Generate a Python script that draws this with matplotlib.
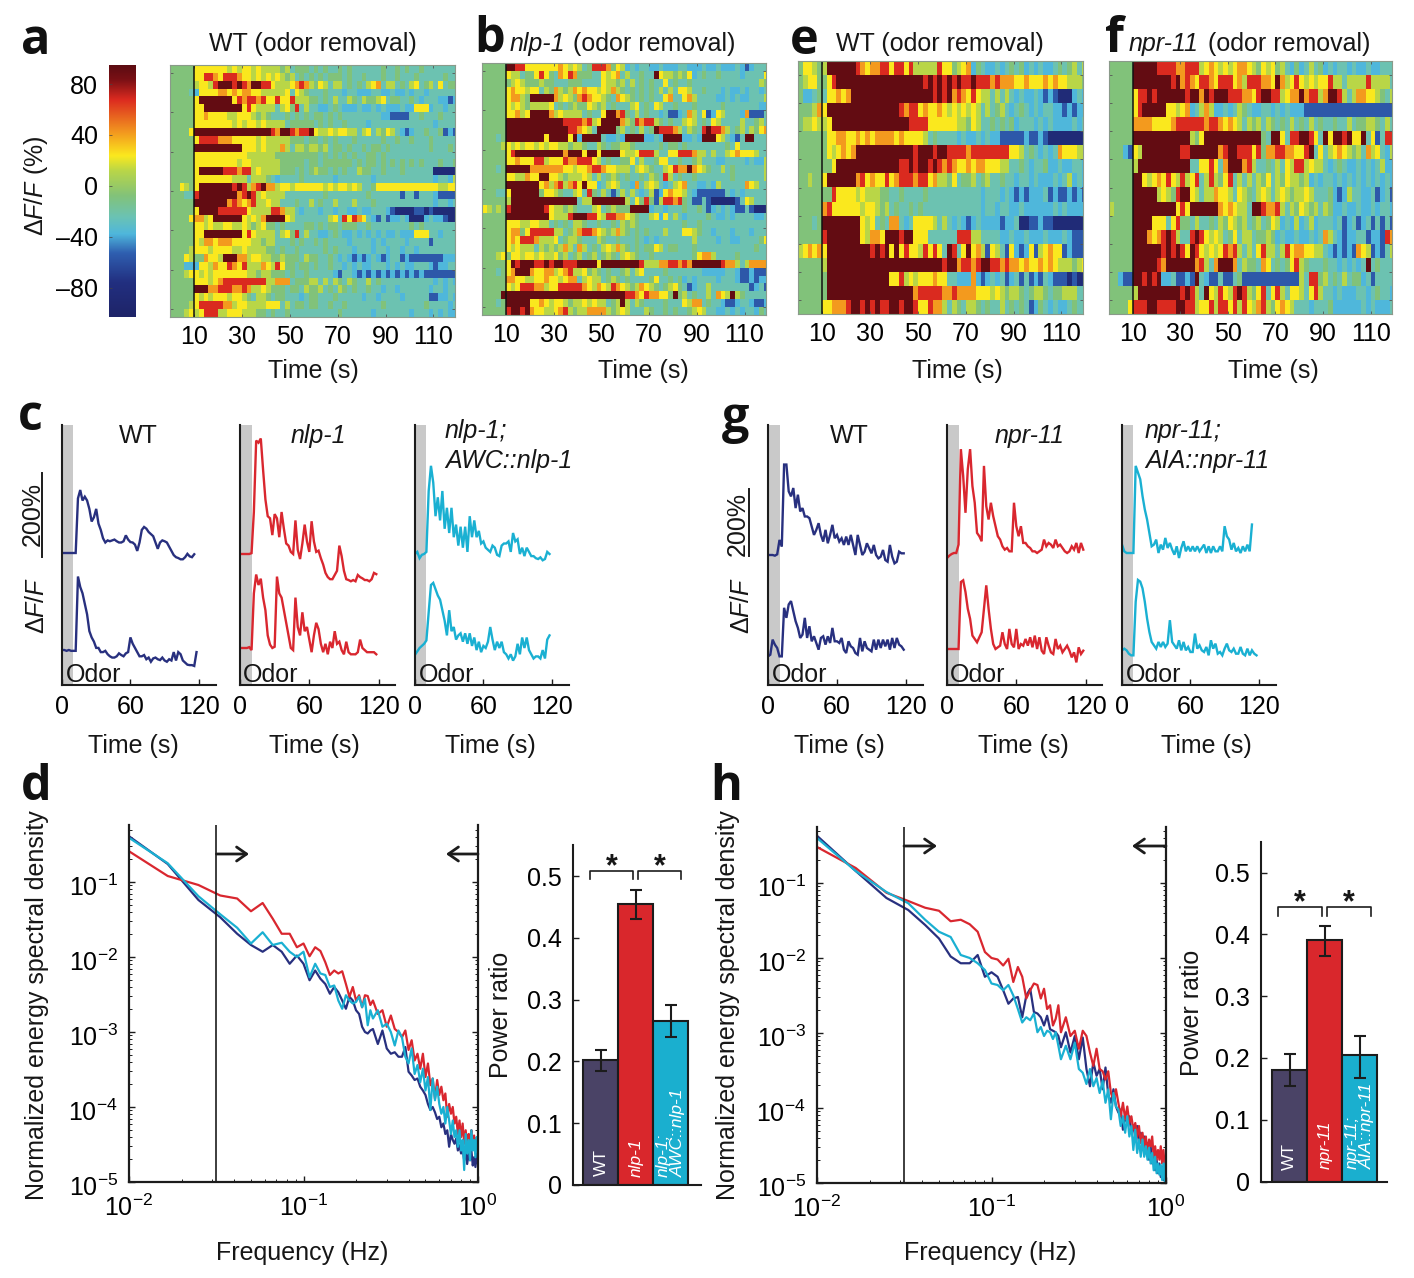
import numpy as np
import matplotlib
matplotlib.use("Agg")
import matplotlib.pyplot as plt
from matplotlib.colors import LinearSegmentedColormap, Normalize
from matplotlib.transforms import ScaledTranslation

plt.rcParams.update({
    "font.family": "Liberation Sans",
    "mathtext.fontset": "custom",
    "mathtext.rm": "Liberation Sans",
    "mathtext.it": "Liberation Sans:italic",
    "mathtext.bf": "Liberation Sans:bold",
    "mathtext.default": "regular",
    "font.size": 18,
})

W, H = 1414, 1278
NAVY, RED, CYAN = "#28307f", "#d9272f", "#1ab0d2"
BAR_COLORS = ["#4a4366", "#d9272c", "#1aafcf"]
INK = "#1c1c1c"

# Calcium response levels (% dF/F) used by the heat map rows
LEVELS = {"D": -85, "B": -56, "c": -38, "t": -24, "g": -8, "l": 12,
          "y": 24, "o": 42, "r": 68, "d": 92}

# Heat map rows, one letter per 2 s bin
HEAT_A = [
    "gggggyyyyy yylylyylyl lllgltgggt gtgttgtgtt ttttgttgtg ttgttttttt",
    "gggggyyrro yrrroyylyl ylylgltgtg tgtgggtgtt gtttgttgtt tgtttttgtt",
    "ggggglyylr dddrdroddr rylllyorol gyltlltgtg tlyotlltgt lytgltytgg",
    "ggggtcyyyy ooyoyooyyl llllytylgt ttgtttcttc ccttcctcct cttctttttt",
    "gggggydddd dddyrorror yyryyrlllg gtgtlttlgt lgglytggtt gtctttccBc",
    "gggggyyddd dddddyryll lltlygrtlt tcctgtccct cctctccctc cyyycttctt",
    "gggggyyoyy yyllyyylgl gtttgtgtgt ggtgtgtttt ttttccBBBB ttgtttgttt",
    "gggggyyyyy yyylylyyly lllltggggg tgtgttgttt tctttttttt tttttctttt",
    "ggggyddddd dddddddddd droddrorrd yllylyyllt lytlgyltcB cttgttgBcB",
    "gggggyrrrr oooyyyyyly lllllgggtg gtgtgtttgt ttttgttgtt gtttgttttt",
    "gggggddddd dddddyyyly llloltllgl lgltggtgtt gtggtgtttt ttttgtttgt",
    "gggggyyyyy yyyyyyllll llgggggggg gtgtgtgtgt tggtgttttt tttttttttt",
    "gggggyyyyy yyyylyylll lllgggggtg gtggggggtg tggtgtgtgt gtgtttgttg",
    "gggggydddd drrrorrlyl lllgggtgtg lggtgtgttl ggttgtttgt tttttDDDDD",
    "gggggyyyyy yyyllltlll gtcttttgtt ttttcttttt ttcttttttt tttttcttcl",
    "ggylgydddd dddrdrlord oolyylyyyy yylylyylyl ttgyyyyyyy yyyyyyllyy",
    "gggttrdddd ddddordrly lllltttttt ttgttttttt tgttttttBt tBtttcBBBB",
    "gggggddddd ddoroyorll ylltttgttl tgttltttlt ttgttttttt tttttcttct",
    "gggggydddd rrrrrrylll lrrolltctt tcttcttcct cctttcBDDD DBBDBDDDDD",
    "ggggyoolyd dddddylylo ddddyltttt tttlytryro ytcBtBcctc DDDctccBDD",
    "gggggyylyl lyyllylgly ggtgttttgg tgtggtgggt tgtttttttt gtgttttttt",
    "gggggyyddd dddddyryll lltlygrtlt tcctgtcctc tctctcctcc cyyyttcttt",
    "gggggylooy oooyyyyllg lltttgtgtt gtgttttctt ttctcttttc ttttBttttt",
    "gggglyyyly yyyllyllll ggtgttgttt ttgtgtttct ttcttcttct tctttttttt",
    "gggylggoyy ldddoolyyl lgglgggtlg gttgtctcBc BctcBcttBc BBBBBBBccc",
    "gggcccyylo yyroyrlllo ylryggtggt gttgttctct cctttctctc ctttcBcctt",
    "ggglyylyly yyyyyyllgl lgggtgttgt ttttcBttcB cBcBcBcBcB cBcBBBBBBB",
    "gggggyyyly orrrrrrrrr lloootgggl ltltlgtlgt tltgtttttt tttttctctc",
    "gggggdddoo rrroorolly lgggtggtlg gltgtlgtgt tgttcttctt ttttcttctt",
    "gggggylyly yylyylgtll gtggtttctg gtttgttttt cttcttttct ttttBBcctc",
    "gggglyrrrr roolyyllll yyytltggtg gttgttgttt ttttgttttt tttgttttct",
    "ggglylyrrr llyyylllgg tgttgttttt tttttgtttt ttcttttttt ctttctctcc",
]
HEAT_B = [
    "gggggddrry yyyyyyoyly ltgrrrogyl ctcttcctcc cttccctcct ccctcBcttt",
    "gggggylltg gyrygtoyro gggttylyot lttgttdyll glgyctgttg ttttctttty",
    "gggggglylg gglggtttgg gttttyllgl tltgtgttyt gttgtttttt ttttttttlg",
    "gggggyoyyl yytlgolglo yoyylylolg tgtgtgtltl tyylttgttt ctcctcttct",
    "gggggyoolg dddddolylg oroyylgtoy lgtgtgttyo ttyolttttc ctctcctttl",
    "gggggylylg llllytgtgl ggylgltgtt tlytgtyltt gtttgttttt gtttttttcc",
    "gggggyyoly ddddolylll ltgttyddor gtltgttctB BctoltyBcy ltttcoBBBt",
    "gggggddddd dddddddrrr rorlyddddo lgrorrlgtg ttlyltgtyl ttttlttglt",
    "gggggddddd ddddddddrr oyltddddgl tgtltgdrrr oltlgtrdrr oltgltlgyo",
    "gggtgddddd dddyddddyd cddddtcctc ddddcctcdd ddcctcdddy ltcBtddttt",
    "gggglylyly ylylyyllgl lgttlgtggl lgtttttgtg gtgttttttt tgtytttttt",
    "gggggyrddd dddddddodd dyddyddddy llyrrrltty yrrrolltlt tlyoyyyltt",
    "gggggyyoyy yrrlyyyroo rrryltgttg gytlttgyyt tgttgltttc cttttctccl",
    "gggtgddddd oooooooyyl yyorroyyll ltlylgttly roodoylgtt ltgttttttl",
    "gggggyyllo yyddyylgll lyltltglgt gttgtlgtrl tgttgttttt ttgttttttl",
    "gggggddddd ddyolorlor ydyyctlylt tcotlyltct lyottcctcl tttttoyltt",
    "gggttydddd ddgyylgttl ytrgtltBtl tltctlBcyo yyltcBBBBB Btctcttttt",
    "gggggldddd dddddddddd tllddddddd ltygrgBlrr orgtBBtBDD DDDBtylttt",
    "ylglgrdddd dddryllglg tttlytglgg gddddcttct ttgttgtBct ctcBBtBDDD",
    "gggggddddd ddddylllrd ddrrylrroo ylgttlycyt ltcttttgtc ctcttttcct",
    "gggggyyyll yylltgtgtl lgttgttgtl glgttttttt ttgttgtttt tttttttttt",
    "gggggyoogy rrrrrlltgl orroylglol gtgtgtttlt ttyylgttct ttctttcttt",
    "gggggyoyrr rolllytgll gtttlgttgt ttgtctcttt ttttlttttc ttccttttgy",
    "gggggylyll ltlglglolt oltgtlylol gtgtggyltg gtttgttttt tttttttgtt",
    "ggglygyyly ylyllygltg ltgltglgtl ylgttgtttt ttttgyoolt tttgtttttt",
    "gggggydrdd drrdrddrrr ddddyddddd dddrllloor rorodddddd rooltlooo",
    "gggtgyoddd oyyoolyorl lyglgtgttg ltlyttttgt ttttttcccc cttcBBcBBB",
    "gggggooyyl lyyoyylyoo tlylltglgt gttttgyttg tgctcttttc tttcBBcBcc",
    "gggggylyrr roolyyrrrr royloylroy lgloylgtgl ygtBcttltt ttttttBctB",
    "ggggdddddd dddddddddd dddddddddd rroyrooyyg dgltgttlto yldlgttttt",
    "gggtgddddd yyoylyylgl lylylltgld ltlgttttgt ttylootgtt cBBcttcBBc",
    "gggggrddrd oyyllyorlg lloooolgly ltttlgttgt gttglylttc ctctcttcgt",
]
HEAT_E = [
    "gyylgldddd ddroyoorry rryrlllllr yyglyocgtc ctctgtgctc tcctgtgltl",
    "glyyggyrdd dddddddddd ddddddrdrd rdrdrrdrrr oroooyyoyy yoyoyylllg",
    "gcctgtyyoy oddddddddd ddddddddrd rdoroyryll tltltctcct cBcBDDDctc",
    "gggloydddd dddddddddd drorryoyyo ylylylyltl tgltctgtct cttccBcBcc",
    "gllyllyddd dddddddddd dddrrrryyy yyyllgyltt gtgtgctttc tctcccctct",
    "ggggggyyoo yyoyoyoooo yoyyyyltgt tttctcctct ccBBBBBcBB cBDDDDDDDD",
    "ggggggylyo yodddddddd ddddrdddrd drrrrorrrr rrrryyltgt ctctoyyyll",
    "gggggggydd dddddddddd drrdrddrdr oroyyoyooy yyllttgtct tgcctccttc",
    "gglggydddd ddoryoyyry orrrorryol lgytggltgl ttgttcttct ccctctlctc",
    "gggggggryy yylylllggt tgttttgttt ttttttttct ttctcBcBcc ctBcBBcBcB",
    "gggggoryyy yyylyylglt gttgtgtttt ttttttttct tcttcctccc ccctctcccc",
    "gggtgddddd dddylytgto otctyyyylt ltctcBctcc ccBcctDDBB cBBDDDDDDD",
    "gggggrdddd dddylooydd drddyyyttt tttrrrlltt ttcctcctcc ctccctcBBB",
    "lyoyoydddd dddddrdrdy dyryylryry tdrtydyolB yltBycBcyB lyoyyBcBBB",
    "gggggldddd dddddddddd dddddddddd rddorrordd rrorooyoyy oyoylllgly",
    "ggggggdddd dddddddddy yrlylyyyoy yttcccocBc tctBctBtBc BtcBBBDBDD",
    "ggggggdddd dddddddddd ddddorrrrr oorooooyyy lylgllgtgl lgtggllltt",
    "gggggyyooo rddrdrdrrd drddryyroo ltlgtllgtg ttltgtgtBc gtctcctgtt",
]
HEAT_F = [
    "gggggddddd rrrroorrrl yoylylyooy lgylygltcg ctltgctctt ctcctccttt",
    "gggggddddd dddrdoroyr royrrryolr rrooydolyr ylylyyrllt llllrllllt",
    "gggggyrrdr ddddddrddo drdddrrroo yrddrrlyoo dorrloddrl tlooyylgtl",
    "gggggyrddd ddyylyoctl olcctctlgt ccttctctcc cBBBBBBBBB BBBBBBBBBB",
    "gggggooooy yyyorrrrrr orroyoyltl gltlgtgtlt gtltgttgtt ltggllgtlt",
    "gggggddddd dddddddlgy dddddddddd ddgtddytrr ddrytdyddr dyydtyBtrr",
    "gggcBylddd dddddrrddd dddorddrrr yrgoorrooy yrdtytlyoy lgltolytcl",
    "gggggldddd dddddddtty yrytodddor lttgtltylr rlylltctgt cctctctlcc",
    "gggggddyly oyrylrlyrt lrlgyrtltl tlgytlgyll glctcttctc tctctctctc",
    "gggggddddd lylgrddylt lloyyltylg tlyltlylgl lyltttgcBc lttcctBctB",
    "lggggddddd ddddyryddd dddoyoyllt ddroorltlg ylgltlgcct cctcctcttc",
    "gggggddddy yytyrggtlt tgtlgylglt gltgylctcl ctlctttctB ctBctBtBtB",
    "gggggdddoy ordrlttrdr ylyltgytll tgglgctcct cctctoltcB ccttBccBro",
    "gggggddddd drdrdrydry lylyrorltl tyrlltlryo oyylltcBcB cBoylBcBtl",
    "gggggddddd roddddddor ltodddotlg gtoytgtgyr lgtttgttct ctctdtgttt",
    "ggcBBddrdr dcctBBcBdt cBBtBBtgBB BBBBBBBBBB ltrrgltgtl tggctBtttt",
    "gggggldddd dddddrdrlt dylrylrdrl gyrtyrltyy ltyrlttctc ccttctgttc",
    "ggggyrrrdd rrrrddrrly yrlrryrlry lorlgyoylt ttctttgccc ccctctccct",
]

# Time courses: % dF/F relative to the pre-stimulus level, sampled every 2 s
WT_C_UP = [0,0,0,0,0,0,0,130,150,125,134,125,105,75,85,105,70,55,35,25,30,28,30,32,28,25,25,28,42,32,26,25,20,5,25,55,62,58,50,45,40,25,10,25,30,28,25,15,5,-5,-10,-12,-15,-15,-10,-2,-8,-10,-3]
WT_C_LO = [0,0,-2,0,-2,-2,-2,175,150,135,110,85,45,30,20,5,5,-5,-5,-2,-10,-15,-18,-18,-15,-8,-12,-15,-8,-5,30,15,5,-5,-15,-15,-12,-22,-18,-28,-20,-18,-22,-24,-18,-25,-28,-22,-25,-5,-25,-5,-10,-25,-30,-35,-36,-36,-38,-5]
NLP_UP = [0,0,0,0,0,2,100,270,265,275,200,130,90,85,45,95,85,40,100,60,25,20,5,0,80,10,-12,25,70,30,5,78,30,5,8,-10,-25,-45,-55,-60,-60,-50,-40,20,-5,-40,-60,-62,-65,-62,-65,-50,-55,-58,-62,-62,-65,-60,-45,-48]
NLP_LO = [0,0,0,0,2,-5,130,175,150,165,120,90,30,8,0,3,170,130,120,90,60,30,0,-5,120,50,30,85,40,50,20,-10,30,60,45,10,-10,10,-15,15,0,40,10,15,-5,-15,15,-10,-15,-15,-15,-10,20,0,-5,-10,-10,-10,-10,-15]
RES_C_UP = [0,5,-10,-2,0,5,150,210,170,90,135,80,150,60,110,50,110,40,70,20,65,15,65,5,90,40,80,40,55,25,30,15,10,5,20,15,-2,-5,20,25,25,30,5,50,30,35,0,15,-5,15,5,-5,-5,-10,-12,-8,-15,-12,5,0]
RES_C_LO = [-16,-8,0,5,10,18,85,150,155,140,125,115,90,65,30,90,40,50,20,30,35,15,35,10,35,5,25,-5,15,-10,5,0,15,50,20,-5,15,0,15,-10,-15,-25,-15,-30,-20,10,-15,25,0,25,-5,-15,-25,-20,-20,-25,-5,-25,20,30]
WT_G_UP = [0,0,0,-2,2,45,25,270,270,190,175,200,140,180,130,140,115,115,110,85,60,75,95,60,40,75,35,60,90,50,60,40,50,30,55,30,60,30,0,60,30,0,10,35,20,5,30,0,-10,-5,15,-15,-20,30,-5,-25,-20,10,5,5]
WT_G_LO = [-25,-20,25,10,0,-25,-25,120,90,130,140,110,80,60,30,40,90,30,65,20,35,15,-5,30,35,10,35,15,60,20,20,15,30,-5,-15,20,5,0,-15,-20,30,-10,20,0,-5,-10,25,-5,25,0,25,5,25,-5,30,0,30,10,5,-5]
NPR_UP = [-15,-8,-3,0,0,25,310,230,120,250,310,200,150,60,50,35,260,140,100,150,110,80,50,40,20,10,15,5,5,150,80,50,80,30,30,20,15,5,5,0,5,10,40,20,30,25,15,40,20,25,15,5,0,5,20,10,30,0,30,10]
NPR_LO = [0,0,0,0,0,0,200,205,170,120,90,40,30,20,35,50,120,190,120,60,15,0,5,10,50,15,0,60,15,5,60,0,15,10,30,10,35,5,40,0,35,-5,-15,35,10,-10,-15,30,0,10,-10,0,10,-5,-25,-10,-40,5,-15,-5]
RES_G_UP = [25,5,0,0,0,0,260,240,220,170,130,100,60,20,25,40,0,25,10,45,15,30,10,-5,20,-15,15,35,5,20,5,20,5,20,5,15,25,0,20,0,20,5,5,20,5,80,50,40,10,30,5,15,0,20,5,25,5,85]
RES_G_LO = [5,10,5,-5,-10,-10,150,215,210,190,150,100,60,30,20,10,30,15,30,15,25,95,30,20,10,35,5,30,5,15,0,0,55,10,20,5,0,15,-10,35,10,25,-5,0,-10,10,25,5,0,10,-5,-5,15,-5,-10,10,-10,5,-5,-10]

# Spectra: frequency bins (multiples of 1/120 Hz) and log10 of the normalized density
FREQ_BINS = [1.2, 2, 3, 4, 5, 6, 7, 8, 9, 10, 11, 12, 13, 14, 15, 16, 17, 18, 19, 20, 21, 22, 23, 24, 25, 26, 27, 28, 29, 30,
             32, 34, 36, 38, 40, 42, 44, 46, 48, 50, 52, 54, 56, 58, 60, 62, 64, 66, 68, 70, 72, 74, 76, 78, 80,
             82, 84, 86, 88, 90, 92, 94, 96, 98, 100, 102, 104, 106, 108, 110, 112, 114, 116, 118, 120]
D_WT = [-0.39,-0.76,-1.24,-1.47,-1.69,-1.84,-1.93,-1.84,-1.93,-2.09,-1.98,-2.09,-2.31,-2.18,-2.29,-2.36,-2.49,-2.40,-2.47,-2.58,-2.69,-2.53,-2.58,-2.71,-2.76,-2.93,-3.0,-3.02,-2.98,-2.96,
        -3.16,-2.98,-3.22,-3.29,-3.27,-3.33,-3.33,-3.2,-3.53,-3.58,-3.64,-3.62,-3.73,-3.78,-3.84,-3.96,-4.04,-4.0,-4.07,-4.16,-4.13,-4.27,-4.22,-4.36,-4.31,
        -4.53,-4.36,-4.44,-4.49,-4.42,-4.58,-4.51,-4.62,-4.56,-4.71,-4.58,-4.76,-4.62,-4.71,-4.58,-4.78,-4.67,-4.8,-4.62,-4.76]
D_MUT = [-0.59,-0.92,-1.04,-1.18,-1.22,-1.39,-1.28,-1.49,-1.69,-1.69,-1.87,-1.82,-1.99,-1.87,-1.92,-2.07,-2.24,-2.18,-2.22,-2.19,-2.36,-2.53,-2.40,-2.58,-2.51,-2.67,-2.51,-2.52,-2.64,-2.58,
         -2.76,-2.71,-2.93,-2.78,-2.96,-3.0,-3.07,-2.98,-3.24,-3.11,-3.38,-3.29,-3.49,-3.29,-3.6,-3.42,-3.71,-3.62,-3.89,-3.64,-3.84,-3.73,-3.91,-3.82,-4.13,
         -3.96,-4.09,-4.0,-4.22,-4.13,-4.36,-4.18,-4.4,-4.22,-4.49,-4.31,-4.53,-4.36,-4.44,-4.31,-4.53,-4.38,-4.6,-4.42,-4.56]
D_RES = [-0.41,-0.75,-1.19,-1.43,-1.61,-1.82,-1.67,-1.84,-1.81,-1.93,-2.0,-1.93,-2.27,-2.09,-2.22,-2.24,-2.4,-2.38,-2.58,-2.69,-2.51,-2.58,-2.62,-2.6,-2.53,-2.67,-2.56,-2.91,-2.71,-2.82,
         -2.71,-2.93,-2.89,-3.0,-3.18,-2.98,-3.07,-3.33,-3.42,-3.22,-3.56,-3.44,-3.67,-3.49,-3.78,-3.6,-4.04,-3.62,-3.91,-3.73,-3.96,-4.09,-4.0,-4.22,-4.0,
         -4.18,-4.36,-4.18,-4.4,-4.31,-4.53,-4.31,-4.58,-4.44,-4.84,-4.36,-4.62,-4.44,-4.71,-4.31,-4.58,-4.44,-4.67,-4.4,-4.56]
H_WT = [-0.37,-0.84,-1.2,-1.36,-1.56,-1.74,-1.98,-2.07,-2.07,-1.96,-2.25,-2.19,-2.25,-2.43,-2.61,-2.54,-2.52,-2.79,-2.5,-2.41,-2.72,-2.74,-2.79,-2.9,-2.77,-2.95,-2.97,-2.99,-3.04,-3.19,
        -2.99,-3.26,-3.04,-3.35,-3.06,-3.48,-3.71,-3.39,-3.57,-3.48,-3.75,-3.46,-3.82,-3.93,-3.75,-3.98,-4.06,-4.02,-4.29,-4.11,-4.2,-4.11,-4.33,-4.24,-4.38,
        -4.24,-4.47,-4.33,-4.51,-4.38,-4.6,-4.47,-4.69,-4.51,-4.74,-4.6,-4.83,-4.69,-4.87,-4.74,-4.92,-4.78,-4.96,-4.83,-4.98]
H_MUT = [-0.52,-0.8,-1.13,-1.24,-1.33,-1.37,-1.51,-1.49,-1.55,-1.65,-1.92,-2.0,-2.02,-2.1,-2.01,-2.32,-2.12,-2.25,-2.54,-2.43,-2.34,-2.36,-2.54,-2.41,-2.68,-2.63,-2.9,-2.81,-2.63,-2.99,
         -2.79,-3.04,-2.97,-3.21,-2.97,-3.04,-3.26,-3.44,-3.21,-3.48,-3.51,-3.62,-3.51,-3.8,-3.89,-3.75,-3.93,-4.11,-3.93,-4.15,-3.98,-4.2,-4.11,-4.29,-4.2,
         -4.38,-4.24,-4.47,-4.33,-4.51,-4.38,-4.6,-4.42,-4.51,-4.38,-4.65,-4.51,-4.69,-4.56,-4.69,-4.51,-4.74,-4.56,-4.78,-4.67]
H_RES = [-0.4,-0.84,-1.12,-1.27,-1.49,-1.65,-1.72,-1.96,-2.0,-2.07,-2.16,-2.34,-2.36,-2.43,-2.36,-2.5,-2.68,-2.86,-2.79,-2.83,-2.74,-2.99,-2.92,-3.04,-2.97,-2.99,-3.08,-2.99,-3.17,-3.35,
         -3.17,-3.35,-3.13,-3.48,-3.53,-3.68,-3.48,-3.71,-3.6,-3.8,-3.64,-3.93,-3.75,-4.15,-3.8,-3.98,-4.02,-4.24,-4.11,-4.33,-4.11,-4.38,-4.24,-4.56,-4.29,
         -4.6,-4.42,-4.65,-4.42,-4.65,-4.51,-4.69,-4.53,-4.74,-4.6,-4.83,-4.65,-4.87,-4.74,-4.89,-4.76,-4.96,-4.74,-4.98,-4.69]

# Power ratio bars: mean, lower and upper error limits
RATIO_D = [0.202, 0.455, 0.266]
RATIO_D_LOW = [0.185, 0.430, 0.240]
RATIO_D_HIGH = [0.218, 0.478, 0.292]
RATIO_H = [0.180, 0.390, 0.204]
RATIO_H_LOW = [0.154, 0.365, 0.168]
RATIO_H_HIGH = [0.207, 0.413, 0.236]

HEAT_TICKS = [10, 30, 50, 70, 90, 110]
COLORBAR_TICKS = [80, 40, 0, -40, -80]
COLORBAR_LABELS = ["80", "40", "0", "\u201340", "\u201380"]
TRACE_TICKS = [0, 60, 120]
RATIO_TICKS = [0, 0.1, 0.2, 0.3, 0.4, 0.5]
RATIO_LABELS = ["0", "0.1", "0.2", "0.3", "0.4", "0.5"]

fig = plt.figure(figsize=(W / 100, H / 100), dpi=100, facecolor="white")


def box(left, top, right, bottom, **kw):
    """Axes placed by its pixel edges, measured from the top left."""
    return fig.add_axes([left / W, 1 - bottom / H, (right - left) / W, (bottom - top) / H], **kw)


cmap_stops = [(-103, "#1e2468"), (-76, "#222f80"), (-53, "#2f5fb0"), (-38, "#4fb7dc"),
              (-24, "#6cc3b2"), (-8, "#82c27a"), (12, "#b9d648"), (24, "#fbe91e"),
              (42, "#f39a1f"), (68, "#dc2b20"), (84, "#7a1015"), (95, "#5c0c12")]
norm = Normalize(-103, 95)
cmap = LinearSegmentedColormap.from_list("response", [(norm(v), c) for v, c in cmap_stops], N=512)


def decode(rows):
    grid = []
    for row in rows:
        letters = row.replace(" ", "")[:60].ljust(60, row.replace(" ", "")[-1])
        grid.append([LEVELS[ch] for ch in letters])
    return np.array(grid, dtype=float)


def heatmap(rows, left, top, right, bottom):
    ax = box(left, top, right, bottom)
    grid = decode(rows)
    ax.imshow(grid, cmap=cmap, norm=norm, aspect="auto", extent=[0, 120, len(rows), 0],
              interpolation="nearest")
    ax.set_xlim(0, 119)
    ax.axvline(10, color="#111111", lw=1.1)
    ax.set_xticks(HEAT_TICKS, [str(t) for t in HEAT_TICKS])
    ax.set_yticks(np.arange(1, len(rows), 2 if len(rows) < 20 else 5))
    ax.set_yticklabels([])
    ax.tick_params(axis="x", direction="in", length=2, width=0.6, pad=6, top=True, color="#555555", labelsize=18)
    ax.tick_params(axis="y", direction="in", length=2, width=0.6, right=True, color="#555555")
    for s in ax.spines.values():
        s.set_color("#8a9a8a")
        s.set_linewidth(0.8)


heatmap(HEAT_A, 170, 65, 455, 317)
heatmap(HEAT_B, 482, 63, 766, 315)
heatmap(HEAT_E, 798, 61, 1083, 314)
heatmap(HEAT_F, 1109, 61, 1392, 314)

# Colour scale
cb = box(109, 65, 136, 317)
cb.imshow(np.linspace(95, -103, 256)[:, None], cmap=cmap, norm=norm, aspect="auto", extent=[0, 1, -103, 95])
cb.set_xticks([])
cb.set_yticks(COLORBAR_TICKS, COLORBAR_LABELS)
cb.tick_params(axis="y", direction="in", length=2, width=0.5, pad=8, labelsize=18, color="#444444")
for s in cb.spines.values():
    s.set_visible(False)


def traces(left, end, scale_x, scale_px, pairs, color):
    """Two stacked time courses over the grey odor window."""
    top, bottom = 425, 685
    ax = box(left, top, end, bottom)
    ax.set_xlim(0, (end - left) / scale_x)
    pct_per_px = 200 / scale_px
    ax.set_ylim(0, (bottom - top) * pct_per_px)
    ax.axvspan(0, 10, color="#c9c9c9", lw=0, zorder=0)
    for values, base_px in pairs:
        t = np.arange(len(values)) * 2.0
        ax.plot(t, np.array(values) + (bottom - base_px) * pct_per_px, color=color, lw=1.7, zorder=2,
                solid_joinstyle="miter")
    ax.set_xticks(TRACE_TICKS, [str(t) for t in TRACE_TICKS])
    ax.set_yticks([])
    ax.tick_params(axis="x", direction="in", length=4, width=1, pad=7, labelsize=18, color=INK)
    ax.patch.set_alpha(0)
    for name in ("top", "right"):
        ax.spines[name].set_visible(False)
    for name in ("left", "bottom"):
        ax.spines[name].set_linewidth(1.5)
        ax.spines[name].set_color(INK)


traces(62, 216, 1.14, 84, [(WT_C_UP, 553), (WT_C_LO, 650)], NAVY)
traces(240, 395, 1.155, 84, [(NLP_UP, 554), (NLP_LO, 648)], RED)
traces(415, 569, 1.14, 84, [(RES_C_UP, 554), (RES_C_LO, 648)], CYAN)
traces(768, 923, 1.15, 67, [(WT_G_UP, 555), (WT_G_LO, 648)], NAVY)
traces(947, 1102, 1.155, 67, [(NPR_UP, 553), (NPR_LO, 649)], RED)
traces(1122, 1276, 1.14, 67, [(RES_G_UP, 553), (RES_G_LO, 652)], CYAN)


def spectra(left, top, right, bottom, series):
    ax = box(left, top, right, bottom)
    freq = np.array(FREQ_BINS) / 120.0
    for vals, col in series:
        ax.plot(freq, 10.0 ** np.array(vals), color=col, lw=1.6, clip_on=True)
    ax.set_xscale("log")
    ax.set_yscale("log")
    ax.set_xlim(1e-2, 1)
    decades = (bottom - top) / 75.0
    ax.set_ylim(1e-5, 10 ** (-5 + decades))
    ax.axvline(10 ** -1.5, color=INK, lw=1.2)
    ax.set_xticks([1e-2, 1e-1, 1], [r"$10^{-2}$", r"$10^{-1}$", r"$10^{0}$"])
    ax.set_yticks([1e-5, 1e-4, 1e-3, 1e-2, 1e-1],
                  [r"$10^{-5}$", r"$10^{-4}$", r"$10^{-3}$", r"$10^{-2}$", r"$10^{-1}$"])
    ax.tick_params(which="major", direction="in", length=4, width=1, right=True, labelsize=18, color=INK)
    ax.tick_params(which="minor", direction="in", length=2, width=0.7, right=True, color=INK)
    ax.tick_params(axis="x", pad=9)
    ax.tick_params(axis="y", pad=8)
    ax.yaxis.set_minor_formatter(plt.NullFormatter())
    ax.xaxis.set_minor_formatter(plt.NullFormatter())
    nudge = ScaledTranslation(0, -3 / 100, fig.dpi_scale_trans)
    for lab in ax.get_yticklabels():
        lab.set_transform(lab.get_transform() + nudge)
    ax.spines["top"].set_visible(False)
    for name in ("left", "bottom", "right"):
        ax.spines[name].set_linewidth(1.6)
        ax.spines[name].set_color(INK)


spectra(129, 825, 478, 1182, [(D_WT, NAVY), (D_MUT, RED), (D_RES, CYAN)])
spectra(817, 827, 1166, 1183, [(H_WT, NAVY), (H_MUT, RED), (H_RES, CYAN)])


def ratio_bars(axis_x, end_x, first_x, top, zero_y, values, low, high):
    ax = box(axis_x, top, end_x, zero_y)
    bar_w = 35.0
    centre0 = first_x + bar_w / 2
    ax.set_xlim((axis_x - centre0) / bar_w, (end_x - centre0) / bar_w)
    ax.set_ylim(0, (zero_y - top) / 618.0)
    xs = np.arange(3)
    vals = np.array(values)
    ax.bar(xs, vals, width=1.0, color=BAR_COLORS, edgecolor=INK, linewidth=1.5, zorder=2)
    ax.errorbar(xs, vals, yerr=[vals - np.array(low), np.array(high) - vals], fmt="none", ecolor=INK,
                elinewidth=1.5, capsize=4.5, capthick=1.5, zorder=3)
    ax.set_xticks([])
    ax.set_yticks(RATIO_TICKS, RATIO_LABELS)
    ax.tick_params(axis="y", direction="in", length=4, width=1, pad=8, labelsize=18, color=INK)
    ax.patch.set_alpha(0)
    for name in ("top", "right"):
        ax.spines[name].set_visible(False)
    for name in ("left", "bottom"):
        ax.spines[name].set_linewidth(1.5)
        ax.spines[name].set_color(INK)


ratio_bars(573, 701, 583, 845, 1185, RATIO_D, RATIO_D_LOW, RATIO_D_HIGH)
ratio_bars(1261, 1387, 1272, 842, 1181.5, RATIO_H, RATIO_H_LOW, RATIO_H_HIGH)

# Shared layer for labels, scale bars and brackets, in pixel coordinates
ov = fig.add_axes([0, 0, 1, 1], zorder=10)
ov.set_xlim(0, W)
ov.set_ylim(H, 0)
ov.axis("off")


def T(x, y, s, ha="center", va="center", size=18, **kw):
    ov.text(x, y, s, ha=ha, va=va, fontsize=size, color=kw.pop("color", "#161616"), **kw)


for letter, x, y in [("a", 36, 42), ("b", 490, 40), ("e", 804, 42), ("f", 1114, 40),
                     ("c", 30, 417), ("g", 736, 420), ("d", 36, 787), ("h", 726, 787)]:
    ov.text(x, y, letter, ha="center", va="center", fontsize=35, fontweight="bold",
            family="Open Sans", color="#111111")

T(313, 44, "WT (odor removal)")
T(510, 44, "nlp-1", ha="left", style="italic")
T(573, 44, "(odor removal)", ha="left")
T(940, 44, "WT (odor removal)")
T(1129, 44, "npr-11", ha="left", style="italic")
T(1208, 44, "(odor removal)", ha="left")
for x in (313, 643, 957, 1273):
    T(x, 371, "Time (s)")
T(36, 186, "\u0394$\\mathit{F/F}$ (%)", rotation=90)

T(138, 436, "WT")
T(318, 436, "nlp-1", style="italic")
T(445, 431, "nlp-1;", ha="left", style="italic")
T(445, 461, "AWC::nlp-1", ha="left", style="italic")
T(849, 436, "WT")
T(1030, 436, "npr-11", style="italic")
T(1145, 431, "npr-11;", ha="left", style="italic")
T(1145, 461, "AIA::npr-11", ha="left", style="italic")
for x in (66, 243, 419, 772, 950, 1126):
    T(x, 675, "Odor", ha="left")
for x in (133, 314, 490, 839, 1023, 1206):
    T(x, 746, "Time (s)")

T(33, 514, "200%", rotation=90)
ov.plot([42, 42], [473, 557], color=INK, lw=1.4)
T(37, 605, "\u0394$\\mathit{F/F}$", rotation=90)
T(738, 524, "200%", rotation=90)
ov.plot([749, 749], [489, 556], color=INK, lw=1.4)
T(742, 605, "\u0394$\\mathit{F/F}$", rotation=90)

T(37, 1005, "Normalized energy spectral density", rotation=90)
T(728, 1005, "Normalized energy spectral density", rotation=90)
T(302, 1253, "Frequency (Hz)")
T(990, 1253, "Frequency (Hz)")
T(501, 1015, "Power ratio", rotation=90)
T(1192, 1013, "Power ratio", rotation=90)

arrow = dict(arrowstyle="->,head_length=0.4,head_width=0.28", lw=2, color=INK, shrinkA=0, shrinkB=0)
for x0, x1, y in [(216.5, 249, 854), (478, 446, 854), (904, 937, 846), (1166, 1132, 846)]:
    ov.annotate("", xy=(x1, y), xytext=(x0, y), arrowprops=arrow)

for x0, x1, top, low in [(590, 633, 871, 879), (638, 681, 871, 879), (1278, 1322, 907, 916), (1327, 1371, 907, 916)]:
    ov.plot([x0, x0, x1, x1], [low, top, top, low], color=INK, lw=1.2)
    T((x0 + x1) / 2, top - 4, "*", size=22, fontweight="bold")

WHITE = dict(color="white", rotation=90, ha="center", va="bottom", size=12.5)
T(601, 1176, "WT", **WHITE)
T(636, 1177, "nlp-1", style="italic", **WHITE)
T(663, 1177, "nlp-1;", style="italic", **WHITE)
T(678, 1177, "AWC::nlp-1", style="italic", **WHITE)
T(1289, 1170, "WT", **WHITE)
T(1325, 1169, "npr-11", style="italic", **WHITE)
T(1352, 1169, "npr-11;", style="italic", **WHITE)
T(1367, 1169, "AIA::npr-11", style="italic", **WHITE)

fig.savefig("out.png", dpi=100)
